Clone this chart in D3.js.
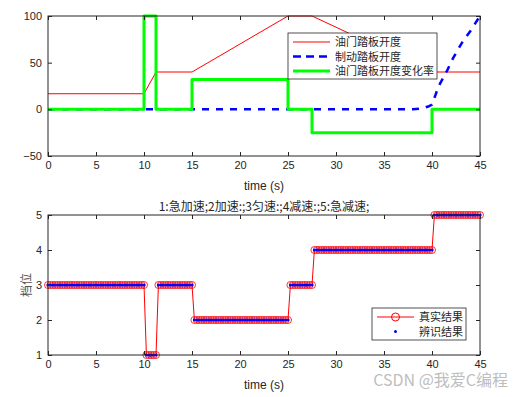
<!DOCTYPE html>
<html>
<head>
<meta charset="utf-8">
<script src="https://cdn.jsdelivr.net/npm/d3@7"></script>
<style>
  body { margin: 0; background: #fff; }
  svg { display: block; font-family: "Liberation Sans", Arial, sans-serif; }
  .cjk { font-family: "Noto Sans CJK SC", sans-serif; }
</style>
</head>
<body>
<svg id="drawing_region"></svg>
<script>
// ---- data ----
const xTicks = [0, 5, 10, 15, 20, 25, 30, 35, 40, 45];
const topYTicks = [-50, 0, 50, 100];
const botYTicks = [1, 2, 3, 4, 5];

// throttle opening
const throttleT = [0, 10, 11.25, 15, 25, 27.5, 40, 45];
const throttleV = [16.7, 16.7, 40, 40, 100, 100, 40, 40];

// brake opening
const brakeT = [0, 38, 39, 39.6, 40, 40.7, 41.6, 42.2, 43.1, 44, 45];
const brakeV = [0, 0, 1, 3, 5, 25, 42, 55, 71, 84, 100];

// throttle change rate
const rateT = [0, 10, 10, 11.25, 11.25, 15, 15, 25, 25, 27.5, 27.5, 40, 40, 45];
const rateV = [0, 0, 100, 100, 0, 0, 32, 32, 0, 0, -25, -25, 0, 0];

// driving state segments (start time, level)
const stateStart = [0, 10.25, 11.5, 15.25, 25.25, 27.75, 40.25];
const stateLevel = [3, 1, 3, 2, 3, 4, 5];
const sampleStep = 0.25;

const legendTop = ["油门踏板开度", "制动踏板开度", "油门踏板开度变化率"];
const legendBot = ["真实结果", "辨识结果"];
const title2 = "1:急加速;2加速:;3匀速:;4减速:;5:急减速;";

// ---- layout ----
const W = 525, H = 397;
const left = 48, right = 480;
const top1 = 16, bot1 = 156;
const top2 = 215, bot2 = 355;

const svg = d3.select('#drawing_region').attr('width', W).attr('height', H);

const x = d3.scaleLinear().domain([0, 45]).range([left, right]);
const y1 = d3.scaleLinear().domain([-50, 100]).range([bot1, top1]);
const y2 = d3.scaleLinear().domain([1, 5]).range([bot2, top2]);

function drawAxes(ys, yTicks, yTop, yBot) {
    const g = svg.append('g');
    g.append('g').attr('transform', `translate(0,${yBot})`)
        .call(d3.axisBottom(x).tickValues(xTicks).tickSizeInner(-4).tickSizeOuter(0).tickPadding(5).tickFormat(d3.format('d')));
    g.append('g').attr('transform', `translate(0,${yTop})`)
        .call(d3.axisTop(x).tickValues(xTicks).tickSizeInner(-4).tickSizeOuter(0).tickFormat(''));
    g.append('g').attr('transform', `translate(${left},0)`)
        .call(d3.axisLeft(ys).tickValues(yTicks).tickSizeInner(-4).tickSizeOuter(0).tickPadding(6).tickFormat(d3.format('d')));
    g.append('g').attr('transform', `translate(${right},0)`)
        .call(d3.axisRight(ys).tickValues(yTicks).tickSizeInner(-4).tickSizeOuter(0).tickFormat(''));
    g.selectAll('.domain').remove();
    g.selectAll('text').style('font-size', '11px').style('fill', '#262626').style('font-family', '"Liberation Sans", Arial, sans-serif');
    g.selectAll('line').style('stroke', '#262626');
    g.append('rect').attr('x', left).attr('y', yTop)
        .attr('width', right - left).attr('height', yBot - yTop)
        .attr('fill', 'none').attr('stroke', '#262626').attr('stroke-width', 1);
    return g;
}

// ---- top panel ----
const clip1 = svg.append('clipPath').attr('id', 'c1').append('rect')
    .attr('x', left).attr('y', top1 - 2).attr('width', right - left + 2).attr('height', bot1 - top1 + 4);

const line1 = d3.line().x(d => x(d[0])).y(d => y1(d[1]));
const p1 = svg.append('g').attr('clip-path', 'url(#c1)');

p1.append('path').datum(d3.zip(throttleT, throttleV)).attr('d', line1)
    .attr('fill', 'none').attr('stroke', '#ff0000').attr('stroke-width', 1);
p1.append('path').datum(d3.zip(brakeT, brakeV)).attr('d', line1)
    .attr('fill', 'none').attr('stroke', '#0000ff').attr('stroke-width', 2.5)
    .attr('stroke-dasharray', '7,7');
p1.append('path').datum(d3.zip(rateT, rateV)).attr('d', line1)
    .attr('fill', 'none').attr('stroke', '#00ff00').attr('stroke-width', 3)
    .attr('stroke-linejoin', 'round');

drawAxes(y1, topYTicks, top1, bot1);

svg.append('text').attr('x', (left + right) / 2).attr('y', 190)
    .attr('text-anchor', 'middle').style('font-size', '12px').style('fill', '#262626')
    .text('time (s)');

// top legend
const lg1 = svg.append('g').attr('transform', 'translate(288,33)');
lg1.append('rect').attr('width', 149).attr('height', 46)
    .attr('fill', '#fff').attr('stroke', '#262626').attr('stroke-width', 0.8);
const lgStyles = [
    {c: '#ff0000', w: 1, dash: null},
    {c: '#0000ff', w: 2.5, dash: '8,5'},
    {c: '#00ff00', w: 3, dash: null}
];
legendTop.forEach((t, i) => {
    const yy = 9 + i * 14.5;
    lg1.append('line').attr('x1', 5).attr('x2', 42).attr('y1', yy).attr('y2', yy)
        .attr('stroke', lgStyles[i].c).attr('stroke-width', lgStyles[i].w)
        .attr('stroke-dasharray', lgStyles[i].dash);
    lg1.append('text').attr('class', 'cjk').attr('x', 47).attr('y', yy + 4)
        .style('font-size', '11px').style('fill', '#262626').text(t);
});

// ---- bottom panel ----
const sampleT = d3.range(0, 45 + 1e-9, sampleStep);
const states = sampleT.map(t => {
    let lv = stateLevel[0];
    stateStart.forEach((s, i) => { if (t >= s - 1e-9) lv = stateLevel[i]; });
    return [t, lv];
});

const line2 = d3.line().x(d => x(d[0])).y(d => y2(d[1]));
const p2 = svg.append('g');
p2.append('path').datum(states).attr('d', line2)
    .attr('fill', 'none').attr('stroke', '#ff0000').attr('stroke-width', 1);
p2.selectAll('circle.real').data(states).enter().append('circle')
    .attr('class', 'real')
    .attr('cx', d => x(d[0])).attr('cy', d => y2(d[1])).attr('r', 3.5)
    .attr('fill', 'none').attr('stroke', '#ff0000').attr('stroke-width', 0.8);
p2.selectAll('circle.ident').data(states).enter().append('circle')
    .attr('class', 'ident')
    .attr('cx', d => x(d[0])).attr('cy', d => y2(d[1])).attr('r', 1.5)
    .attr('fill', '#0000ff');

drawAxes(y2, botYTicks, top2, bot2);

svg.append('text').attr('class', 'cjk').attr('x', (left + right) / 2).attr('y', 211)
    .attr('text-anchor', 'middle').style('font-size', '12px').style('fill', '#262626')
    .text(title2);

svg.append('text').attr('x', (left + right) / 2).attr('y', 389)
    .attr('text-anchor', 'middle').style('font-size', '12px').style('fill', '#262626')
    .text('time (s)');

svg.append('text').attr('class', 'cjk')
    .attr('transform', 'rotate(-90)')
    .attr('x', -(top2 + bot2) / 2 + 0).attr('y', 31)
    .attr('text-anchor', 'middle').style('font-size', '12px').style('fill', '#555')
    .text('档位');

// bottom legend
const lg2 = svg.append('g').attr('transform', 'translate(372,308)');
lg2.append('rect').attr('width', 94).attr('height', 32)
    .attr('fill', '#fff').attr('stroke', '#262626').attr('stroke-width', 0.8);
lg2.append('line').attr('x1', 5).attr('x2', 42).attr('y1', 9).attr('y2', 9)
    .attr('stroke', '#ff0000').attr('stroke-width', 1);
lg2.append('circle').attr('cx', 23.5).attr('cy', 9).attr('r', 4)
    .attr('fill', 'none').attr('stroke', '#ff0000').attr('stroke-width', 1);
lg2.append('circle').attr('cx', 23.5).attr('cy', 23.5).attr('r', 1.5).attr('fill', '#0000ff');
legendBot.forEach((t, i) => {
    lg2.append('text').attr('class', 'cjk').attr('x', 47).attr('y', 13 + i * 14.5)
        .style('font-size', '11px').style('fill', '#262626').text(t);
});

// watermark
svg.append('text').attr('class', 'cjk').attr('x', 508).attr('y', 386)
    .attr('text-anchor', 'end').style('font-size', '16px').style('fill', '#b8b8b8')
    .style('opacity', 0.9).text('CSDN @我爱C编程');
</script>
</body>
</html>
